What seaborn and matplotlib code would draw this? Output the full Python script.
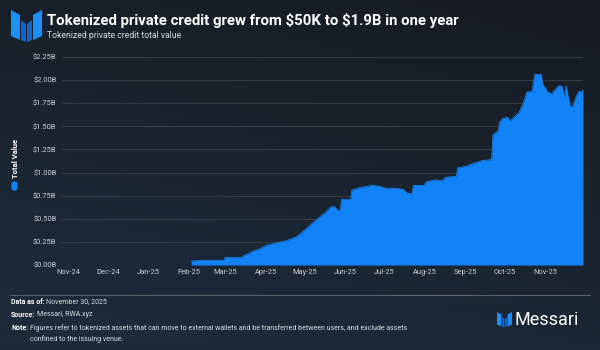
import numpy as np
import pandas as pd
import matplotlib
matplotlib.use("Agg")
import matplotlib.pyplot as plt
import matplotlib.dates as mdates
from matplotlib.patches import Polygon, FancyBboxPatch
import seaborn as sns

# ---------------- data ----------------
dates = [
    "2025-02-03", "2025-02-10", "2025-02-28", "2025-03-01", "2025-03-14",
    "2025-03-15", "2025-03-20", "2025-03-22", "2025-03-27", "2025-04-01",
    "2025-04-09", "2025-04-16", "2025-04-24", "2025-05-01", "2025-05-09",
    "2025-05-17", "2025-05-21", "2025-05-24", "2025-05-26", "2025-05-28",
    "2025-05-29", "2025-06-05", "2025-06-06", "2025-06-13", "2025-06-21",
    "2025-06-26", "2025-07-02", "2025-07-09", "2025-07-15", "2025-07-18",
    "2025-07-21", "2025-07-22", "2025-07-23", "2025-07-31", "2025-08-02",
    "2025-08-09", "2025-08-14", "2025-08-17", "2025-08-25", "2025-08-26",
    "2025-09-02", "2025-09-07", "2025-09-14", "2025-09-21", "2025-09-22",
    "2025-09-26", "2025-09-27", "2025-09-29", "2025-10-03", "2025-10-05",
    "2025-10-09", "2025-10-12", "2025-10-15", "2025-10-18", "2025-10-22",
    "2025-10-24", "2025-10-29", "2025-10-30", "2025-11-03", "2025-11-06",
    "2025-11-10", "2025-11-12", "2025-11-14", "2025-11-16", "2025-11-17",
    "2025-11-20", "2025-11-22", "2025-11-25", "2025-11-27", "2025-11-29",
    "2025-11-30",
]
values_b = [
    0.043, 0.05, 0.05, 0.08, 0.08,
    0.10, 0.13, 0.15, 0.17, 0.21,
    0.24, 0.26, 0.30, 0.38, 0.48,
    0.57, 0.63, 0.63, 0.59, 0.59,
    0.71, 0.71, 0.81, 0.84, 0.86,
    0.855, 0.83, 0.83, 0.82, 0.78,
    0.77, 0.77, 0.86, 0.86, 0.90,
    0.92, 0.91, 0.95, 0.96, 1.05,
    1.07, 1.10, 1.13, 1.14, 1.41,
    1.45, 1.54, 1.58, 1.60, 1.56,
    1.61, 1.65, 1.74, 1.87, 1.88,
    2.06, 2.06, 1.96, 1.87, 1.85,
    1.92, 1.94, 1.93, 1.81, 1.94,
    1.72, 1.71, 1.83, 1.88, 1.87,
    1.90,
]
y_ticks = [0, 0.25, 0.5, 0.75, 1.0, 1.25, 1.5, 1.75, 2.0, 2.25]
y_tick_labels = ["$0.00B", "$0.25B", "$0.50B", "$0.75B", "$1.00B",
                 "$1.25B", "$1.50B", "$1.75B", "$2.00B", "$2.25B"]

df = pd.DataFrame({"date": pd.to_datetime(dates), "value": values_b})

# ---------------- style ----------------
sns.set_theme(style="dark")
plt.rcParams["font.family"] = ["Roboto", "DejaVu Sans"]

BLUE = "#1282f7"
TXT = "#c9ced6"
GRID = "#3a3f47"

fig = plt.figure(figsize=(6, 3.5), dpi=100)

# background gradient
bg = fig.add_axes([0, 0, 1, 1], zorder=-10)
yy, xx = np.mgrid[0:1:200j, 0:1:300j]
t = np.clip(yy * 0.8 + (1 - xx) * 0.35, 0, 1)
c_top = np.array([0x18, 0x1b, 0x20]) / 255
c_bot = np.array([0x1c, 0x2a, 0x3a]) / 255
img = c_top[None, None, :] * (1 - t[..., None]) + c_bot[None, None, :] * t[..., None]
bg.imshow(img, aspect="auto", extent=[0, 1, 0, 1], origin="upper")
bg.set_axis_off()

ax = fig.add_axes([62 / 600, 1 - 265 / 350, (583 - 62) / 600, (265 - 57) / 350])
ax.set_facecolor("none")

sns.lineplot(data=df, x="date", y="value", ax=ax, color=BLUE, linewidth=0.6)
ax.fill_between(df["date"], 0, df["value"], color=BLUE, linewidth=0, zorder=2)

ax.set_xlim(pd.Timestamp("2024-10-27"), pd.Timestamp("2025-11-30"))
ax.set_ylim(0, 2.25)
ax.set_yticks(y_ticks)
ax.set_yticklabels(y_tick_labels)
ax.xaxis.set_major_locator(mdates.MonthLocator())
ax.xaxis.set_major_formatter(mdates.DateFormatter("%b-%y"))
ax.tick_params(axis="both", length=0, labelsize=5.4, colors=TXT, pad=4)
ax.tick_params(axis="x", pad=3)
ax.grid(axis="y", color=GRID, linewidth=0.6)
ax.grid(axis="x", visible=False)
ax.set_axisbelow(True)
for s in ax.spines.values():
    s.set_visible(False)
ax.set_xlabel("")
ax.set_ylabel("")

# rotated legend on the left
fig.text(15 / 600, 1 - 158 / 350, "Total Value", rotation=90, color="white",
         fontsize=5.5, fontweight="bold", ha="center", va="center")
fig.patches.append(FancyBboxPatch((11.5 / 600, 1 - 191 / 350), 6 / 600, 10 / 350,
                                  boxstyle="round,pad=0,rounding_size=0.008",
                                  transform=fig.transFigure, facecolor=BLUE,
                                  edgecolor="none"))

# title and subtitle
fig.text(47 / 600, 1 - 20 / 350, r"Tokenized private credit grew from \$50K to \$1.9B in one year",
         color="white", fontsize=10.7, fontweight="bold", ha="left", va="center")
fig.text(47 / 600, 1 - 36 / 350, "Tokenized private credit total value",
         color="#d8dce2", fontsize=6.2, ha="left", va="center")

# logo
def logo(x0, y0, s):
    light = "#1e8fff"
    dark = "#0f63c8"
    shapes = [
        ([(0, 0), (9, 5), (9, 30), (0, 26)], light),
        ([(10, 10), (15, 14), (15, 32), (10, 30)], dark),
        ([(21, 10), (16, 14), (16, 32), (21, 30)], dark),
        ([(31, 0), (22, 5), (22, 30), (31, 26)], light),
    ]
    for pts, col in shapes:
        P = [((x0 + px * s) / 600, 1 - (y0 + py * s) / 350) for px, py in pts]
        fig.patches.append(Polygon(P, closed=True, transform=fig.transFigure,
                                   facecolor=col, edgecolor="none"))

logo(11, 10, 1.0)

# footer separator
fig.add_artist(plt.Line2D([10 / 600, 590 / 600], [1 - 295 / 350, 1 - 295 / 350],
                          transform=fig.transFigure, color="#5a6068", linewidth=0.8))

fs = 5.0
def footer(y, bold, rest):
    t1 = fig.text(11 / 600, 1 - y / 350, bold, color="white", fontsize=fs,
                  fontweight="bold", ha="left", va="center")
    fig.canvas.draw()
    bb = t1.get_window_extent()
    x_next = bb.x1 / fig.bbox.width + 1.5 / 600
    fig.text(x_next, 1 - y / 350, rest, color="#d8dce2", fontsize=fs,
             ha="left", va="center")

footer(302, "Data as of:", "November 30, 2025")
footer(315, "Source:", "Messari, RWA.xyz")
footer(328, "Note:", "Figures refer to tokenized assets that can move to external wallets and be transferred between users, and exclude assets")
fig.text(30 / 600, 1 - 339 / 350, "confined to the issuing venue.", color="#d8dce2",
         fontsize=fs, ha="left", va="center")

# bottom-right brand
logo(497, 312, 0.48)
fig.text(514 / 600, 1 - 320 / 350, "Messari", color="white", fontsize=13,
         ha="left", va="center")

fig.savefig("out.png", dpi=100, facecolor=fig.get_facecolor())
